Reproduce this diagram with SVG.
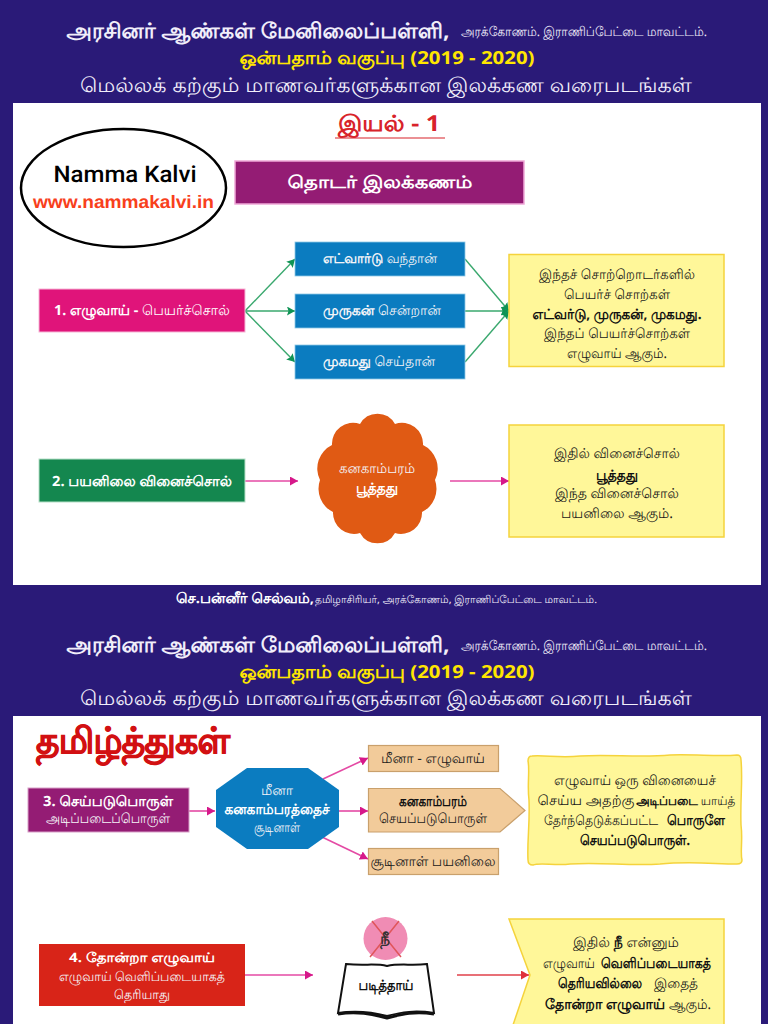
<svg xmlns="http://www.w3.org/2000/svg" width="768" height="1024" viewBox="0 0 768 1024">
<style>
text{font-family:"Noto Sans","Liberation Sans",sans-serif;text-anchor:middle;text-rendering:geometricPrecision}
.w{fill:#f4f4f8;font-size:13.500px}
.wb{fill:#fff;font-size:14px;font-weight:700}
.k{fill:#1a1a1a;font-size:13.500px}
.kb{fill:#111;font-size:14px;font-weight:700}
.h1{fill:#f1eefa;font-size:21px;font-weight:700}
.h2{fill:#f1eefa;font-size:13px}
.h3{fill:#ffe600;font-size:18px;font-weight:700}
.h4{fill:#f1eefa;font-size:20px}
.g{stroke:#3aa86e;stroke-width:1.400;fill:none;marker-end:url(#ag)}
.p{stroke:#e44aa4;stroke-width:1.600;fill:none;marker-end:url(#ap)}
.r{stroke:#e0404a;stroke-width:1.600;fill:none;marker-end:url(#ar)}
.y{fill:#fff799;stroke:#f5d33c;stroke-width:1.500}
.t{fill:#f2cb9a;stroke:#c9a06c;stroke-width:1.200}
.bl{fill:#0b7cc0;stroke:#8ec8e6;stroke-width:.8}
</style>
<defs>
<marker id="ag" markerUnits="userSpaceOnUse" markerWidth="9" markerHeight="10" refX="8" refY="4.500" orient="auto"><path d="M0 0L8 4.500L0 9L1.500 4.500z" fill="#0f9355"/></marker>
<marker id="ap" markerUnits="userSpaceOnUse" markerWidth="9" markerHeight="10" refX="8" refY="4.500" orient="auto"><path d="M0 0L8 4.500L0 9z" fill="#d6188a"/></marker>
<marker id="ar" markerUnits="userSpaceOnUse" markerWidth="9" markerHeight="10" refX="8" refY="4.500" orient="auto"><path d="M0 0L8 4.500L0 9z" fill="#e0303a"/></marker>
</defs>
<rect width="768" height="1024" fill="#2a1a78"/>
<rect x="13" y="103" width="748" height="482" fill="#fff"/>
<rect x="13" y="716" width="748" height="308" fill="#fff"/>

<g id="header1">
<text class="h1" x="258" y="38" textLength="383" lengthAdjust="spacingAndGlyphs">அரசினர் ஆண்கள் மேனிலைப்பள்ளி,</text>
<text class="h2" x="584" y="36" textLength="246" lengthAdjust="spacingAndGlyphs">அரக்கோணம். இராணிப்பேட்டை மாவட்டம்.</text>
<text class="h3" x="387" y="64" textLength="295" lengthAdjust="spacingAndGlyphs">ஒன்பதாம் வகுப்பு (2019 - 2020)</text>
<text class="h4" x="386" y="92" textLength="612" lengthAdjust="spacingAndGlyphs">மெல்லக் கற்கும் மாணவர்களுக்கான இலக்கண வரைபடங்கள்</text>
</g>
<g id="iyal"><text x="389" y="131" fill="#d8232a" font-size="22" font-weight="700" textLength="102" lengthAdjust="spacingAndGlyphs">இயல் - 1</text><rect x="335" y="137.500" width="110" height="1" fill="#d8232a"/></g>
<g id="logo"><ellipse cx="123.500" cy="188" rx="102.500" ry="59" fill="#fff" stroke="#000" stroke-width="2.500"/>
<text x="125" y="182" font-size="23" font-weight="500" fill="#000" style="font-family:Roboto,'Liberation Sans',sans-serif" textLength="143" lengthAdjust="spacingAndGlyphs">Namma Kalvi</text>
<text x="123.500" y="208" font-size="18" font-weight="700" fill="#f8401c" style="font-family:'Liberation Sans',sans-serif" textLength="181" lengthAdjust="spacingAndGlyphs">www.nammakalvi.in</text></g>
<g id="title"><rect x="235" y="161" width="289" height="43" fill="#941c74" stroke="#f0a8d8" stroke-width="1.500"/><text class="wb" x="380" y="188" style="font-size:17px" textLength="185" lengthAdjust="spacingAndGlyphs">தொடர் இலக்கணம்</text></g>
<g id="connectors">
<path class="g" d="M245 311L295 259"/><path class="g" d="M245 311H295"/><path class="g" d="M245 311L295 362"/>
<path class="g" d="M465 259L509 311"/><path class="g" d="M465 311H509"/><path class="g" d="M465 362L509 311"/>
<path class="p" d="M245 481H298"/><path class="p" d="M450 481H509"/>
<path class="p" d="M189 811H215"/><path class="p" d="M339 811H368"/><path class="p" d="M323 779L368 758"/><path class="p" d="M322 837L368 859"/>
<path class="p" d="M245 975H313"/><path class="r" d="M457 975H529"/>
</g>
<g id="n1"><rect x="39" y="289" width="206" height="43" fill="#e0147a" stroke="#f6b6d6"/><text class="wb" x="142" y="315" textLength="176" lengthAdjust="spacingAndGlyphs">1. எழுவாய் - <tspan font-weight="400">பெயர்ச்சொல்</tspan></text></g>
<g id="b1"><rect class="bl" x="295" y="242" width="170" height="34"/><text class="w" x="380" y="263" textLength="114" lengthAdjust="spacingAndGlyphs"><tspan font-weight="700">எட்வார்டு</tspan> வந்தான்</text></g>
<g id="b2"><rect class="bl" x="295" y="294" width="170" height="34"/><text class="w" x="382" y="315" textLength="118" lengthAdjust="spacingAndGlyphs"><tspan font-weight="700">முருகன்</tspan> சென்றான்</text></g>
<g id="b3"><rect class="bl" x="295" y="345" width="170" height="34"/><text class="w" x="379" y="366" textLength="112" lengthAdjust="spacingAndGlyphs"><tspan font-weight="700">முகமது</tspan> செய்தான்</text></g>
<g id="y1"><rect class="y" x="509" y="254.500" width="215" height="112"/>
<text class="k" x="617" y="279" textLength="156" lengthAdjust="spacingAndGlyphs">இந்தச் சொற்றொடர்களில்</text>
<text class="k" x="617" y="299" textLength="106" lengthAdjust="spacingAndGlyphs">பெயர்ச் சொற்கள்</text>
<text class="kb" x="617" y="319" textLength="169" lengthAdjust="spacingAndGlyphs">எட்வர்டு, முருகன், முகமது.</text>
<text class="k" x="617" y="338" textLength="146" lengthAdjust="spacingAndGlyphs">இந்தப் பெயர்ச்சொற்கள்</text>
<text class="k" x="617" y="358" textLength="100" lengthAdjust="spacingAndGlyphs">எழுவாய் ஆகும்.</text></g>
<g id="n2"><rect x="39" y="459" width="206" height="43" fill="#14874f" stroke="#b6e0c8"/><text class="wb" x="142" y="486" textLength="180" lengthAdjust="spacingAndGlyphs">2. பயனிலை வினைச்சொல்</text></g>
<g id="cloud"><path fill="#e05a14" d="M360 424A20 20 0 0 1 395 424A21 21 0 0 1 423 445A26 26 0 0 1 435 480A26 26 0 0 1 422 512A21 21 0 0 1 395 533A20 20 0 0 1 360 533A21 21 0 0 1 333 512A26 26 0 0 1 320 480A26 26 0 0 1 332 445A21 21 0 0 1 360 424Z"/>
<text class="w" x="377" y="473" textLength="76" lengthAdjust="spacingAndGlyphs">கனகாம்பரம்</text><text class="wb" x="377" y="493" textLength="42" lengthAdjust="spacingAndGlyphs">பூத்தது</text></g>
<g id="y2"><rect class="y" x="509" y="425" width="215" height="112"/>
<text class="k" x="617" y="458" textLength="126" lengthAdjust="spacingAndGlyphs">இதில் வினைச்சொல்</text>
<text class="kb" x="617" y="480" textLength="42" lengthAdjust="spacingAndGlyphs">பூத்தது</text>
<text class="k" x="617" y="498" textLength="124" lengthAdjust="spacingAndGlyphs">இந்த வினைச்சொல்</text>
<text class="k" x="617" y="518" textLength="112" lengthAdjust="spacingAndGlyphs">பயனிலை ஆகும்.</text></g>
<g id="footer"><text class="wb" x="245" y="603" textLength="138" lengthAdjust="spacingAndGlyphs">செ.பன்னீர் செல்வம்,</text><text class="h2" x="456" y="603" style="font-size:10.500px" textLength="282" lengthAdjust="spacingAndGlyphs">தமிழாசிரியர், அரக்கோணம், இராணிப்பேட்டை மாவட்டம்.</text></g>

<g id="header2">
<text class="h1" x="258" y="652" textLength="383" lengthAdjust="spacingAndGlyphs">அரசினர் ஆண்கள் மேனிலைப்பள்ளி,</text>
<text class="h2" x="584" y="650" textLength="246" lengthAdjust="spacingAndGlyphs">அரக்கோணம். இராணிப்பேட்டை மாவட்டம்.</text>
<text class="h3" x="387" y="678" textLength="295" lengthAdjust="spacingAndGlyphs">ஒன்பதாம் வகுப்பு (2019 - 2020)</text>
<text class="h4" x="386" y="705" textLength="612" lengthAdjust="spacingAndGlyphs">மெல்லக் கற்கும் மாணவர்களுக்கான இலக்கண வரைபடங்கள்</text>
</g>
<g id="tamil"><text x="133" y="753" fill="#d21012" stroke="#d21012" stroke-width=".8" font-size="36" font-weight="700" textLength="194" lengthAdjust="spacing">தமிழ்த்துகள்</text></g>
<g id="n3"><rect x="28" y="788" width="161" height="44" fill="#941c74" stroke="#d8a0c8"/><text class="wb" x="108" y="806" textLength="130" lengthAdjust="spacingAndGlyphs">3. செய்படுபொருள்</text><text class="w" x="108" y="823" textLength="124" lengthAdjust="spacingAndGlyphs">அடிப்படைப்பொருள்</text></g>
<g id="oct"><path fill="#0b7cc0" d="M247 768H308L339 790V827L308 849H247L216 827V790Z"/>
<text class="w" x="277" y="795" textLength="32" lengthAdjust="spacingAndGlyphs">மீனா</text><text class="wb" x="277" y="814" textLength="105" lengthAdjust="spacingAndGlyphs">கனகாம்பரத்தைச்</text><text class="w" x="277" y="832" textLength="46" lengthAdjust="spacingAndGlyphs">சூடினாள்</text></g>
<g id="t1"><rect class="t" x="368.500" y="745.500" width="130" height="26"/><text class="k" x="433" y="763" textLength="104" lengthAdjust="spacingAndGlyphs">மீனா - எழுவாய்</text></g>
<g id="t2"><path class="t" d="M368.500 788.500H500L525 810.500L500 832H368.500Z"/><text class="kb" x="433" y="806" textLength="68" lengthAdjust="spacingAndGlyphs">கனகாம்பரம்</text><text class="k" x="433" y="823" textLength="108" lengthAdjust="spacingAndGlyphs">செயப்படுபொருள்</text></g>
<g id="t3"><rect class="t" x="368.500" y="848.500" width="130" height="26"/><text class="k" x="433" y="866" textLength="125" lengthAdjust="spacingAndGlyphs">சூடினாள் பயனிலை</text></g>
<g id="y3"><path class="y" d="M532 756C545 755 560 758 580 756C610 754 640 758 670 755C695 754 720 757 737 755Q741 755 741 760C743 780 740 800 741 825C743 840 740 852 742 860Q742 864 737 864C715 864 690 861 660 864C630 866 600 862 570 864C555 866 540 862 533 865Q528 865 528 860C527 840 530 825 529 800C527 785 530 770 528 761Q528 756 532 756Z"/>
<text class="k" x="635" y="785" textLength="162" lengthAdjust="spacingAndGlyphs">எழுவாய் ஒரு வினையைச்</text>
<text class="k" x="586" y="805" textLength="97" lengthAdjust="spacingAndGlyphs">செய்ய அதற்கு</text>
<text class="kb" x="667" y="805" style="font-size:12px">அடிப்படை</text>
<text class="k" x="718" y="805" style="font-size:12px">யாய்த்</text>
<text class="k" x="601" y="825" textLength="114" lengthAdjust="spacingAndGlyphs">தேர்ந்தெடுக்கப்பட்ட</text>
<text class="kb" x="696" y="825" textLength="58" lengthAdjust="spacingAndGlyphs">பொருளே</text>
<text class="kb" x="635" y="845" textLength="110" lengthAdjust="spacingAndGlyphs">செயப்படுபொருள்.</text></g>
<g id="n4"><rect x="39" y="944" width="206" height="62" fill="#d82418"/><text class="wb" x="142" y="962" style="font-size:13px" textLength="146" lengthAdjust="spacingAndGlyphs">4. தோன்றா எழுவாய்</text><text class="w" x="142" y="981" style="font-size:13px" textLength="166" lengthAdjust="spacingAndGlyphs">எழுவாய் வெளிப்படையாகத்</text><text class="w" x="142" y="999" style="font-size:13px" textLength="56" lengthAdjust="spacingAndGlyphs">தெரியாது</text></g>
<g id="nee"><ellipse cx="385.500" cy="938.500" rx="22" ry="21.500" fill="#f08cb4"/><path d="M372 921L401 957M399 921L370 957" stroke="#e0555a" stroke-width="1.500" fill="none"/><text x="385" y="944" font-size="15" font-weight="700" fill="#333">நீ</text></g>
<g id="book"><path d="M346 964C365 966 375 963 387 966C400 963 412 966 427 964L434 1013C415 1010 402 1012 387 1016C372 1012 357 1010 338 1013Z" fill="#fff" stroke="#111" stroke-width="2"/><path d="M338 1014C357 1011 372 1014 387 1018C402 1014 415 1011 434 1014" fill="none" stroke="#111" stroke-width="3"/><text class="kb" x="386" y="990" textLength="55" lengthAdjust="spacingAndGlyphs">படித்தாய்</text></g>
<g id="y4"><path class="y" d="M509 919H724V1025H513L530 975Z"/>
<text class="k" x="626" y="947" textLength="106" lengthAdjust="spacingAndGlyphs">இதில் <tspan font-weight="700">நீ</tspan> என்னும்</text>
<text class="k" x="569" y="968" textLength="52" lengthAdjust="spacingAndGlyphs">எழுவாய்</text>
<text class="kb" x="656" y="968" textLength="110" lengthAdjust="spacingAndGlyphs">வெளிப்படையாகத்</text>
<text class="kb" x="600" y="988" textLength="84" lengthAdjust="spacingAndGlyphs">தெரியவில்லை</text>
<text class="k" x="676" y="988" textLength="44" lengthAdjust="spacingAndGlyphs">இதைத்</text>
<text class="kb" x="605" y="1009" textLength="120" lengthAdjust="spacingAndGlyphs">தோன்றா எழுவாய்</text>
<text class="k" x="690" y="1009" textLength="42" lengthAdjust="spacingAndGlyphs">ஆகும்.</text></g>
</svg>
